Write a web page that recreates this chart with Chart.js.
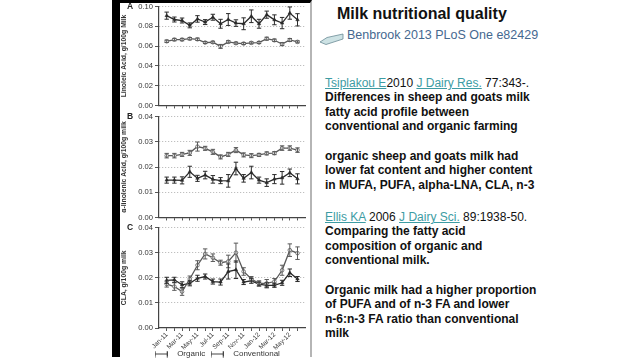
<!DOCTYPE html>
<html>
<head>
<meta charset="utf-8">
<script src="https://cdn.jsdelivr.net/npm/chart.js@4.4.1/dist/chart.umd.min.js"></script>
<style>
html, body { margin: 0; padding: 0; background: #fff; width: 640px; height: 360px; overflow: hidden;
  font-family: "Liberation Sans", Arial, sans-serif; color: #111; }
#fig { position: absolute; left: 112px; top: 0; width: 190px; height: 354px;
  border-left: 8px solid #000; border-top: 3px solid #000; border-right: 2px solid #b5b5b5; }
canvas { position: absolute; left: 120px; }
#title { position: absolute; left: 337px; top: 5px; font-weight: bold; font-size: 16px; line-height: 18px; }
#arrow { position: absolute; left: 318px; top: 32px; }
#benbrook { position: absolute; left: 347px; top: 28px; font-size: 12.5px; line-height: 14px; color: #45688f; }
.txt { position: absolute; left: 325px; font-size: 12px; line-height: 14.4px; white-space: nowrap; }
.lnk { color: #3d9ca3; text-decoration: underline; }
</style>
</head>
<body>
<div id="fig"></div>
<canvas id="chartA" width="190" height="112" style="top:0px"></canvas>
<canvas id="chartB" width="190" height="114" style="top:110px"></canvas>
<canvas id="chartC" width="190" height="147" style="top:221px"></canvas>

<div id="title">Milk nutritional quality</div>
<svg id="arrow" width="28" height="14"><polygon points="2,10 9,5.5 25,2 25,7 8,12.5" fill="#cde2e4" stroke="#6b8b96" stroke-width="0.8"/></svg>
<div id="benbrook">Benbrook 2013 PLoS One e82429</div>

<div class="txt" style="top:76px"><span class="lnk">Tsiplakou E</span>2010 <span class="lnk">J Dairy Res.</span> 77:343-.<br>
<b>Differences in sheep and goats milk<br>fatty acid profile between<br>conventional and organic farming</b></div>
<div class="txt" style="top:149px"><b>organic sheep and goats milk had<br>lower fat content and higher content<br>in MUFA, PUFA, alpha-LNA, CLA, n-3</b></div>
<div class="txt" style="top:210px"><span class="lnk">Ellis KA</span> 2006 <span class="lnk">J Dairy Sci.</span> 89:1938-50.<br>
<b>Comparing the fatty acid<br>composition of organic and<br>conventional milk.</b></div>
<div class="txt" style="top:283px"><b>Organic milk had a higher proportion<br>of PUFA and of n-3 FA and lower<br>n-6:n-3 FA ratio than conventional<br>milk</b></div>

<script>
const months = ['Jan-11', 'Feb-11', 'Mar-11', 'Apr-11', 'May-11', 'Jun-11', 'Jul-11', 'Aug-11', 'Sep-11',
    'Oct-11', 'Nov-11', 'Dec-11', 'Jan-12', 'Feb-12', 'Mar-12', 'Apr-12', 'May-12', 'Jun-12'];
const seriesLabels = ['Organic', 'Conventional'];

// A: linoleic acid
const laOrganic = [0.0649, 0.0666, 0.0666, 0.0675, 0.0669, 0.0636, 0.0639, 0.0597, 0.0643,
    0.0630, 0.0626, 0.0633, 0.0636, 0.0675, 0.0659, 0.0620, 0.0662, 0.0643];
const laOrganicErr = [0.0012, 0.0012, 0.0012, 0.0012, 0.0012, 0.0010, 0.0010, 0.0020, 0.0012,
    0.0010, 0.0010, 0.0010, 0.0010, 0.0015, 0.0012, 0.0015, 0.0015, 0.0010];
const laConventional = [0.0908, 0.0869, 0.0859, 0.0810, 0.0875, 0.0843, 0.0892, 0.0826, 0.0869,
    0.0833, 0.0826, 0.0902, 0.0826, 0.0918, 0.0866, 0.0833, 0.0934, 0.0866];
const laConventionalErr = [0.0036, 0.0025, 0.0025, 0.0025, 0.0033, 0.0025, 0.0030, 0.0045, 0.0060,
    0.0033, 0.0060, 0.0064, 0.0045, 0.0036, 0.0050, 0.0057, 0.0062, 0.0062];

// B: alpha-linolenic acid
const alaOrganic = [0.0245, 0.0245, 0.0250, 0.0256, 0.0281, 0.0274, 0.0260, 0.0240, 0.0250,
    0.0267, 0.0248, 0.0245, 0.0248, 0.0254, 0.0255, 0.0275, 0.0275, 0.0267];
const alaOrganicErr = [0.0009, 0.0009, 0.0008, 0.0010, 0.0018, 0.0008, 0.0010, 0.0008, 0.0008,
    0.0010, 0.0008, 0.0008, 0.0006, 0.0006, 0.0006, 0.0009, 0.0009, 0.0009];
const alaConventional = [0.0148, 0.0148, 0.0147, 0.0181, 0.0155, 0.0168, 0.0151, 0.0146, 0.0145,
    0.0194, 0.0155, 0.0178, 0.0148, 0.0138, 0.0152, 0.0157, 0.0177, 0.0153];
const alaConventionalErr = [0.0012, 0.0012, 0.0014, 0.0022, 0.0012, 0.0015, 0.0015, 0.0012, 0.0025,
    0.0025, 0.0015, 0.0025, 0.0012, 0.0015, 0.0018, 0.0025, 0.0015, 0.0020];

// C: CLA
const claOrganic = [0.0175, 0.0165, 0.0145, 0.0195, 0.0250, 0.0295, 0.0280, 0.0260, 0.0265,
    0.0300, 0.0225, 0.0195, 0.0178, 0.0178, 0.0185, 0.0230, 0.0310, 0.0298];
const claOrganicErr = [0.0012, 0.0015, 0.0015, 0.0012, 0.0018, 0.0020, 0.0015, 0.0010, 0.0025,
    0.0038, 0.0015, 0.0010, 0.0010, 0.0015, 0.0012, 0.0020, 0.0025, 0.0025];
const claConventional = [0.0190, 0.0192, 0.0172, 0.0178, 0.0198, 0.0205, 0.0185, 0.0183, 0.0225,
    0.0232, 0.0183, 0.0188, 0.0175, 0.0170, 0.0170, 0.0180, 0.0220, 0.0195];
const claConventionalErr = [0.0012, 0.0010, 0.0012, 0.0010, 0.0012, 0.0010, 0.0010, 0.0012, 0.0030,
    0.0035, 0.0010, 0.0010, 0.0008, 0.0010, 0.0008, 0.0010, 0.0015, 0.0010];

Chart.defaults.font.family = '"Liberation Sans", Arial, sans-serif';
Chart.defaults.color = '#333';

const errorBars = {
    id: 'errorBars',
    afterDatasetsDraw(chart) {
        const ctx = chart.ctx;
        const y = chart.scales.y;
        chart.data.datasets.forEach((ds, i) => {
            const meta = chart.getDatasetMeta(i);
            ctx.save();
            ctx.strokeStyle = ds.borderColor;
            ctx.lineWidth = 1;
            meta.data.forEach((pt, j) => {
                const v = ds.data[j].y;
                const top = y.getPixelForValue(v + ds.errors[j]);
                const bot = y.getPixelForValue(v - ds.errors[j]);
                ctx.beginPath();
                ctx.moveTo(pt.x, top); ctx.lineTo(pt.x, bot);
                ctx.moveTo(pt.x - 2.2, top); ctx.lineTo(pt.x + 2.2, top);
                ctx.moveTo(pt.x - 2.2, bot); ctx.lineTo(pt.x + 2.2, bot);
                ctx.stroke();
            });
            ctx.restore();
        });
    },
};

const panelLetter = {
    id: 'panelLetter',
    afterDraw(chart, args, opts) {
        const ctx = chart.ctx;
        const y = chart.scales.y;
        ctx.save();
        ctx.font = 'bold 8.5px "Liberation Sans", Arial, sans-serif';
        ctx.fillStyle = '#222';
        ctx.textBaseline = 'middle';
        ctx.fillText(opts.text, 7, y.getPixelForValue(y.max) + 0.5);
        ctx.restore();
    },
};

function legendIcon() {
    const c = document.createElement('canvas');
    c.width = 13; c.height = 7;
    const g = c.getContext('2d');
    g.strokeStyle = '#444';
    g.lineWidth = 1;
    g.beginPath();
    g.moveTo(0.5, 3.5); g.lineTo(12.5, 3.5);
    g.moveTo(0.5, 0.5); g.lineTo(0.5, 6.5);
    g.moveTo(12.5, 0.5); g.lineTo(12.5, 6.5);
    g.stroke();
    return c;
}

function makeDatasets(organic, organicErr, conventional, conventionalErr) {
    return [{
        label: seriesLabels[0],
        data: organic.map((v, i) => ({x: i, y: v})),
        errors: organicErr,
        borderColor: '#595959',
        borderWidth: 1.3,
        pointStyle: 'circle',
        pointRadius: 1.8,
        pointBackgroundColor: '#fff',
        pointBorderWidth: 0.8,
        tension: 0,
    }, {
        label: seriesLabels[1],
        data: conventional.map((v, i) => ({x: i, y: v})),
        errors: conventionalErr,
        borderColor: '#2a2a2a',
        borderWidth: 1.3,
        pointStyle: 'triangle',
        pointRadius: 2,
        pointBackgroundColor: '#2a2a2a',
        pointBorderWidth: 0.5,
        tension: 0,
    }];
}

function createPanel(canvasId, letter, yTitle, yMax, yStep, datasets, showLabels) {
    return new Chart(document.getElementById(canvasId), {
        type: 'line',
        data: {datasets: datasets},
        options: {
            responsive: false,
            animation: false,
            layout: {padding: {top: 5.5, left: 0, right: 1, bottom: 0}},
            plugins: {
                legend: {
                    display: showLabels,
                    position: 'bottom',
                    labels: {
                        usePointStyle: true,
                        pointStyleWidth: 24,
                        padding: 0,
                        color: '#333',
                        font: {size: 8},
                        generateLabels: (chart) => chart.data.datasets.map((ds, i) => ({
                            text: ds.label,
                            pointStyle: legendIcon(),
                            datasetIndex: i,
                            fontColor: '#333',
                            lineWidth: 0,
                            strokeStyle: 'transparent',
                            fillStyle: 'transparent',
                            hidden: false,
                        })),
                    },
                },
                tooltip: {enabled: false},
                panelLetter: {text: letter},
            },
            scales: {
                x: {
                    type: 'linear',
                    min: -1,
                    max: 18,
                    afterBuildTicks: (s) => { s.ticks = s.ticks.filter(t => t.value >= 0 && t.value <= 17); },
                    afterFit: (s) => { s.height = showLabels ? 22 : 5; },
                    grid: {drawOnChartArea: false, drawTicks: true, tickLength: 3, tickColor: '#444', tickWidth: 0.9},
                    border: {color: '#444', width: 1.2},
                    ticks: {
                        display: showLabels,
                        stepSize: 1,
                        autoSkip: false,
                        maxRotation: 45,
                        minRotation: 45,
                        padding: 0,
                        font: {size: 6.5},
                        color: '#333',
                        callback: (v) => (v % 2 === 0 ? months[v] : ''),
                    },
                },
                y: {
                    min: 0,
                    max: yMax,
                    afterFit: (s) => { s.width = 39; },
                    title: {display: true, text: yTitle, color: '#333', padding: {top: 0.5, bottom: 0},
                        font: {size: 6.8, weight: 'bold'}},
                    grid: {
                        color: (c) => (c.tick.value === 0 ? 'rgba(0,0,0,0)' : '#a8a8a8'),
                        lineWidth: 0.9,
                        tickLength: 4,
                        tickColor: '#444',
                        tickWidth: 0.9,
                        tickBorderDash: [],
                    },
                    border: {color: '#444', width: 1.2, dash: [1, 2]},
                    ticks: {
                        stepSize: yStep,
                        padding: 2,
                        font: {size: 7.6},
                        color: '#333',
                        callback: (v) => v.toFixed(2),
                    },
                },
            },
        },
        plugins: [errorBars, panelLetter],
    });
}

createPanel('chartA', 'A', 'Linoleic Acid, g/100g Milk', 0.10, 0.02,
    makeDatasets(laOrganic, laOrganicErr, laConventional, laConventionalErr), false);
createPanel('chartB', 'B', '\u03b1-linolenic Acid, g/100g milk', 0.04, 0.01,
    makeDatasets(alaOrganic, alaOrganicErr, alaConventional, alaConventionalErr), false);
createPanel('chartC', 'C', 'CLA, g/100g milk', 0.04, 0.01,
    makeDatasets(claOrganic, claOrganicErr, claConventional, claConventionalErr), true);
</script>
</body>
</html>
